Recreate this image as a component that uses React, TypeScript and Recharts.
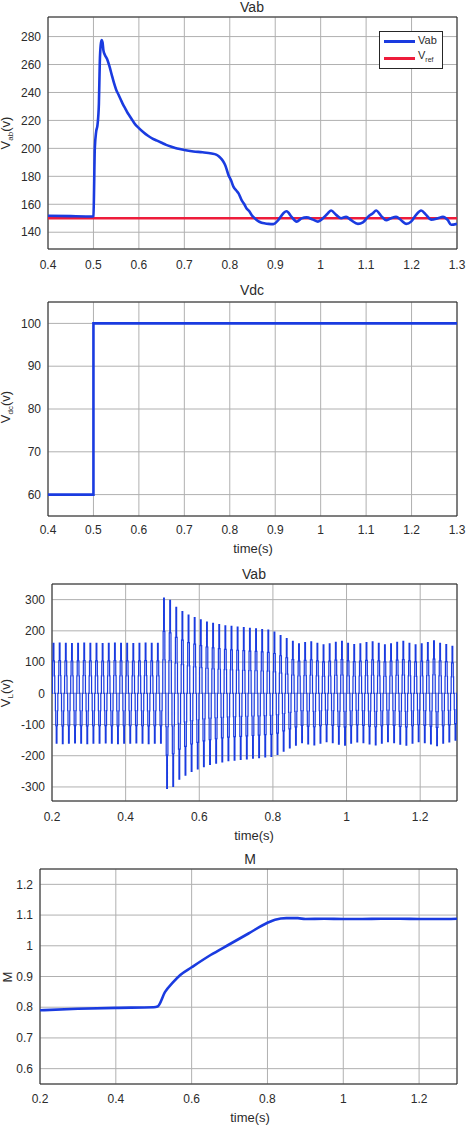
import React from "react";
import {
  LineChart,
  Line,
  XAxis,
  YAxis,
  CartesianGrid,
  ReferenceArea,
} from "recharts";

// ---------- Data ----------
// Panel 1: Vab (RMS) vs time, and Vref
const VAB_TIME = [
  0.4, 0.45, 0.499, 0.5, 0.503, 0.506, 0.509, 0.512, 0.514, 0.516, 0.518, 0.52, 0.522,
  0.525, 0.53, 0.535, 0.54, 0.545, 0.55, 0.555, 0.56, 0.565, 0.57, 0.575, 0.58, 0.585,
  0.59, 0.6, 0.61, 0.62, 0.63, 0.64, 0.65, 0.66, 0.67, 0.68, 0.69, 0.7, 0.72, 0.74,
  0.76, 0.77, 0.775, 0.78, 0.785, 0.79, 0.797, 0.803, 0.808, 0.814, 0.819, 0.826, 0.832,
  0.837, 0.843, 0.848, 0.854, 0.859, 0.865, 0.87, 0.878, 0.885, 0.896, 0.907, 0.918,
  0.925, 0.936, 0.947, 0.958, 0.969, 0.983, 0.994, 1.005, 1.016, 1.023, 1.034, 1.045,
  1.056, 1.067, 1.082, 1.093, 1.104, 1.115, 1.122, 1.133, 1.144, 1.155, 1.166, 1.177,
  1.188, 1.199, 1.21, 1.221, 1.232, 1.243, 1.258, 1.269, 1.28, 1.287, 1.3,
];
const VAB_VALUES = [
  151.8, 151.5, 151.3, 151.5, 200, 212, 217, 232, 262, 274, 277.5, 276, 270,
  267, 264, 259, 253, 247, 242, 238.5, 235, 231.5, 228.5, 225.5, 223, 220.5,
  218, 214.5, 211.5, 209, 207, 205.5, 204, 202.5, 201.3, 200.3, 199.5, 198.8, 197.8, 197.2,
  196.3, 195.5, 194.5, 193, 191, 188, 181, 177, 172.6, 170, 168, 163, 160,
  157, 155, 152.4, 150.3, 148.8, 147.5, 146.8, 146.3, 146, 145.8, 148.8, 153.6,
  155, 151, 147.6, 149.9, 150.6, 149, 147.6, 150, 153.6, 155.5, 152.4, 150,
  151, 148.6, 146, 147, 151, 153.6, 155.5, 151.7, 148.6, 150, 151, 148.6,
  146, 147.6, 152.4, 155.5, 152.4, 149, 150, 151, 148.6, 145.3, 146,
];
const VREF_TIME = [0.4, 1.3];
const VREF_VALUES = [150, 150];
const P1_X_TICKS = [0.4, 0.5, 0.6, 0.7, 0.8, 0.9, 1, 1.1, 1.2, 1.3];
const P1_Y_TICKS = [140, 160, 180, 200, 220, 240, 260, 280];

// Panel 2: Vdc step
const VDC_TIME = [0.4, 0.5, 0.5, 1.3];
const VDC_VALUES = [60, 60, 100, 100];
const P2_X_TICKS = [0.4, 0.5, 0.6, 0.7, 0.8, 0.9, 1, 1.1, 1.2, 1.3];
const P2_Y_TICKS = [60, 70, 80, 90, 100];

// Panel 3: line voltage waveform (60 Hz stepped), peak per cycle
const VL_CYCLE_START = 0.2;
const VL_CYCLE_LENGTH = 1 / 60;
const VL_PEAKS = [
  160, 161, 160, 159, 160, 161, 160, 160, 159, 160, 161, 160, 160, 159, 160, 161, 160, 160,
  305, 298, 275, 262, 250, 242, 235, 228, 224, 220, 216, 214, 212, 210, 208, 206, 204, 202,
  196, 185, 175, 166,
  158, 162, 165, 160, 155, 158, 163, 166, 160, 156, 158, 162, 165, 160, 155, 158, 163, 166,
  160, 155, 158, 162, 168, 160, 156, 150,
];
const VL_SHAPE_PHASE = [0, 0.05, 0.11, 0.19, 0.31, 0.39, 0.45, 0.55, 0.61, 0.69, 0.81, 0.89, 0.95];
const VL_SHAPE_LEVEL = [0, 0.35, 0.65, 1, 0.65, 0.35, 0, -0.35, -0.65, -1, -0.65, -0.35, 0];
const P3_X_TICKS = [0.2, 0.4, 0.6, 0.8, 1, 1.2];
const P3_Y_TICKS = [-300, -200, -100, 0, 100, 200, 300];

// Panel 4: modulation index M
const M_TIME = [
  0.2, 0.3, 0.4, 0.5, 0.51, 0.53, 0.55, 0.57, 0.6, 0.65, 0.7, 0.75, 0.8, 0.82, 0.85,
  0.88, 0.9, 0.95, 1.0, 1.05, 1.1, 1.15, 1.2, 1.25, 1.3,
];
const M_VALUES = [
  0.79, 0.795, 0.798, 0.8, 0.802, 0.85, 0.88, 0.905, 0.93, 0.97, 1.005, 1.04, 1.075, 1.085,
  1.09, 1.09, 1.087, 1.088, 1.087, 1.087, 1.088, 1.088, 1.087, 1.087, 1.088,
];
const P4_X_TICKS = [0.2, 0.4, 0.6, 0.8, 1, 1.2];
const P4_Y_TICKS = [0.6, 0.7, 0.8, 0.9, 1, 1.1, 1.2];

// ---------- Tables ----------
const zip = (ts: number[], vs: number[]) => ts.map((t, i) => ({ t, v: vs[i] }));
const vabData = zip(VAB_TIME, VAB_VALUES);
const vrefData = zip(VREF_TIME, VREF_VALUES);
const vdcData = zip(VDC_TIME, VDC_VALUES);
const mData = zip(M_TIME, M_VALUES);
const vlData: { t: number; v: number }[] = [];
VL_PEAKS.forEach((peak, k) => {
  const t0 = VL_CYCLE_START + k * VL_CYCLE_LENGTH;
  VL_SHAPE_PHASE.forEach((ph, j) => {
    const t = t0 + ph * VL_CYCLE_LENGTH;
    if (t <= 1.3) vlData.push({ t, v: VL_SHAPE_LEVEL[j] * peak });
  });
});
vlData.push({ t: 1.3, v: 0 });

// ---------- Styles ----------
const FONT = '"Liberation Sans", Arial, Helvetica, sans-serif';
const TEXT = "#2b2b2b";
const GRID = "#b0b0b0";
const BOX = "#262626";
const BLUE = "#1a3be0";
const RED = "#ee1c3b";
const W = 474;

const tickStyle = { fontSize: 12, fill: TEXT, fontFamily: FONT };

type PanelProps = {
  top: number;
  height: number;
  plotLeft: number;
  plotTop: number;
  plotRight: number;
  plotBottom: number;
  xDomain: [number, number];
  yDomain: [number, number];
  xTicks: number[];
  yTicks: number[];
  xTickMargin: number;
  yTickMargin: number;
  children: React.ReactNode;
};

function Panel(p: PanelProps) {
  return (
    <div style={{ position: "absolute", left: 0, top: p.top, width: W, height: p.height }}>
      <LineChart
        width={W}
        height={p.height}
        margin={{ top: p.plotTop, right: W - p.plotRight, left: 0, bottom: 0 }}
      >
        <CartesianGrid stroke={GRID} strokeWidth={1} />
        <XAxis
          dataKey="t"
          type="number"
          domain={p.xDomain}
          ticks={p.xTicks}
          allowDataOverflow
          height={p.height - p.plotBottom}
          axisLine={false}
          tickLine={false}
          tickSize={0}
          tickMargin={p.xTickMargin}
          tick={tickStyle}
          tickFormatter={(v: number) => String(v)}
          interval={0}
        />
        <YAxis
          dataKey="v"
          type="number"
          domain={p.yDomain}
          ticks={p.yTicks}
          allowDataOverflow
          width={p.plotLeft}
          axisLine={false}
          tickLine={false}
          tickSize={0}
          tickMargin={p.yTickMargin}
          tick={tickStyle}
          tickFormatter={(v: number) => String(v)}
          interval={0}
        />
        {p.children}
        <ReferenceArea
          x1={p.xDomain[0]}
          x2={p.xDomain[1]}
          y1={p.yDomain[0]}
          y2={p.yDomain[1]}
          fill="none"
          fillOpacity={0}
          stroke={BOX}
          strokeWidth={1}
          ifOverflow="visible"
        />
      </LineChart>
    </div>
  );
}

function Title({ text, cx, cy, size = 14 }: { text: React.ReactNode; cx: number; cy: number; size?: number }) {
  return (
    <div
      style={{
        position: "absolute",
        left: cx,
        top: cy,
        transform: "translate(-50%, -50%)",
        fontFamily: FONT,
        fontSize: size,
        color: TEXT,
        whiteSpace: "nowrap",
        lineHeight: 1,
      }}
    >
      {text}
    </div>
  );
}

function YLabel({ text, cx, cy }: { text: React.ReactNode; cx: number; cy: number }) {
  return (
    <div
      style={{
        position: "absolute",
        left: cx,
        top: cy,
        transform: "translate(-50%, -50%) rotate(-90deg)",
        fontFamily: FONT,
        fontSize: 13,
        color: TEXT,
        whiteSpace: "nowrap",
        lineHeight: 1,
      }}
    >
      {text}
    </div>
  );
}

const subStyle: React.CSSProperties = { fontSize: 8, verticalAlign: "-3px" };

export default function App() {
  return (
    <div style={{ position: "absolute", left: 0, top: 0, width: W, height: 1125, background: "#fff" }}>
      {/* Panel 1 */}
      <Panel
        top={0}
        height={280}
        plotLeft={48}
        plotTop={17}
        plotRight={457}
        plotBottom={249}
        xDomain={[0.4, 1.3]}
        yDomain={[128, 294]}
        xTicks={P1_X_TICKS}
        yTicks={P1_Y_TICKS}
        xTickMargin={11}
        yTickMargin={7}
      >
        <Line data={vrefData} dataKey="v" stroke={RED} strokeWidth={2.6} dot={false} isAnimationActive={false} type="linear" />
        <Line data={vabData} dataKey="v" stroke={BLUE} strokeWidth={2.6} dot={false} isAnimationActive={false} type="monotone" />
      </Panel>
      <Title text="Vab" cx={252} cy={7} />
      <YLabel text={<span>V<span style={subStyle}>ab</span>(v)</span>} cx={7} cy={133} />
      <div
        style={{
          position: "absolute",
          left: 379,
          top: 31,
          width: 64,
          height: 38,
          boxSizing: "border-box",
          border: `1px solid ${BOX}`,
          background: "#fff",
          fontFamily: FONT,
          fontSize: 11,
          color: TEXT,
        }}
      >
        <div style={{ position: "absolute", left: 4, top: 8, width: 31, height: 2.6, background: BLUE }} />
        <div style={{ position: "absolute", left: 38, top: 3, lineHeight: 1 }}>Vab</div>
        <div style={{ position: "absolute", left: 4, top: 25, width: 31, height: 2.6, background: RED }} />
        <div style={{ position: "absolute", left: 38, top: 18, lineHeight: 1 }}>
          V<span style={{ fontSize: 7, verticalAlign: "-3px" }}>ref</span>
        </div>
      </div>

      {/* Panel 2 */}
      <Panel
        top={280}
        height={280}
        plotLeft={48}
        plotTop={22}
        plotRight={457}
        plotBottom={236}
        xDomain={[0.4, 1.3]}
        yDomain={[55, 105]}
        xTicks={P2_X_TICKS}
        yTicks={P2_Y_TICKS}
        xTickMargin={9}
        yTickMargin={7}
      >
        <Line data={vdcData} dataKey="v" stroke={BLUE} strokeWidth={2.6} dot={false} isAnimationActive={false} type="linear" />
      </Panel>
      <Title text="Vdc" cx={252} cy={289.5} />
      <Title text="time(s)" cx={253} cy={548} size={13} />
      <YLabel text={<span>V<span style={subStyle}>dc</span>(v)</span>} cx={7} cy={407} />

      {/* Panel 3 */}
      <Panel
        top={560}
        height={280}
        plotLeft={52}
        plotTop={24}
        plotRight={457}
        plotBottom={241}
        xDomain={[0.2, 1.3]}
        yDomain={[-345, 350]}
        xTicks={P3_X_TICKS}
        yTicks={P3_Y_TICKS}
        xTickMargin={11}
        yTickMargin={7}
      >
        <Line data={vlData} dataKey="v" stroke={BLUE} strokeWidth={1.2} dot={false} isAnimationActive={false} type="stepAfter" />
      </Panel>
      <Title text="Vab" cx={254} cy={573.5} />
      <Title text="time(s)" cx={254} cy={835} size={13} />
      <YLabel text={<span>V<span style={subStyle}>L</span>(v)</span>} cx={7} cy={693} />

      {/* Panel 4 */}
      <Panel
        top={840}
        height={285}
        plotLeft={40}
        plotTop={29}
        plotRight={457}
        plotBottom={244}
        xDomain={[0.2, 1.3]}
        yDomain={[0.55, 1.25]}
        xTicks={P4_X_TICKS}
        yTicks={P4_Y_TICKS}
        xTickMargin={10}
        yTickMargin={7}
      >
        <Line data={mData} dataKey="v" stroke={BLUE} strokeWidth={2.6} dot={false} isAnimationActive={false} type="monotone" />
      </Panel>
      <Title text="M" cx={250} cy={859} />
      <Title text="time(s)" cx={250} cy={1116.5} size={13} />
      <YLabel text="M" cx={7} cy={977} />
    </div>
  );
}
